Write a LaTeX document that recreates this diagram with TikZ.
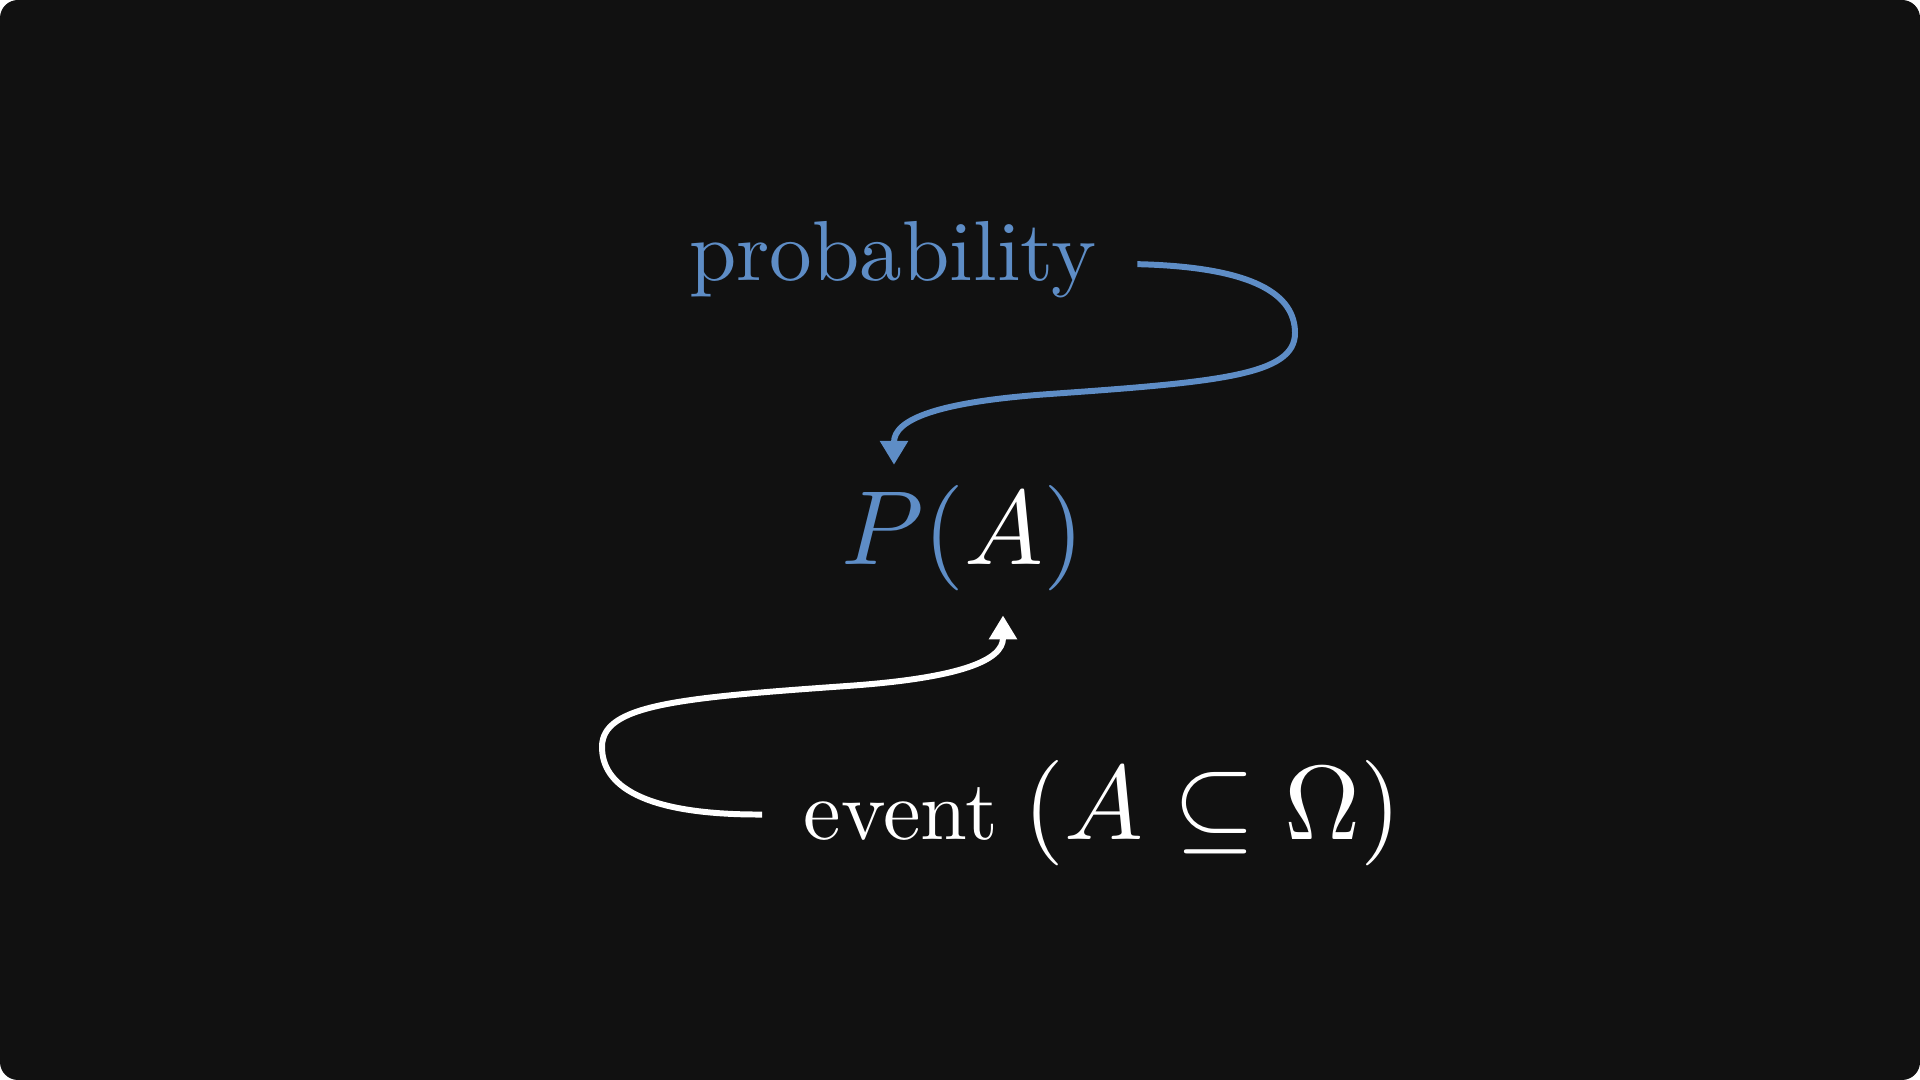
\documentclass[tikz,border=0pt]{standalone}
\usepackage{xcolor}
\usepackage{tikz}
\usetikzlibrary{arrows.meta, positioning}
\definecolor{probblue}{RGB}{94,141,198}
\definecolor{slatebg}{RGB}{17,17,17}

\begin{document}
\begin{tikzpicture}[
    word/.style={inner sep=0pt, scale=2.4},
    formula/.style={inner sep=0pt, scale=3},
    pointer/.style={line width=1.7pt, -{Triangle[length=2.4mm, width=2.7mm]}}
]
    % Slide background
    \useasboundingbox (0,0) rectangle (19.2,10.8);
    \fill[white] (0,0) rectangle (19.2,10.8);
    \fill[slatebg, rounded corners=1.8mm] (0,0) rectangle (19.2,10.8);

    % Notation and its parts
    \node[formula, anchor=base, text=probblue] (pa) at (9.63,5.15) {$P(\textcolor{white}{A})$};
    \node[word, scale=1.01, anchor=base west, text=probblue] (prob) at (6.875,7.99) {probability};
    \node[word, anchor=base west, text=white] (event) at (8.02,2.40) {event};
    \node[formula, text=white, right=2.2mm of event.base east, anchor=base west] (eventset) {$(A \subseteq \Omega)$};

    % Pointers
    \draw[pointer, probblue] ([xshift=3.9mm, yshift=-0.4mm]prob.east) .. controls (12.55,8.13) and (12.95,7.85) .. (12.95,7.47)
        .. controls (12.95,7.05) and (12.2,6.98) .. (10.5,6.86)
        .. controls (9.35,6.78) and (8.94,6.6) .. ([xshift=-6.9mm, yshift=1.9mm]pa.north);
    \draw[pointer, white] ([xshift=-4mm]event.west) .. controls (6.42,2.65) and (6.02,2.95) .. (6.02,3.33)
        .. controls (6.02,3.75) and (6.77,3.82) .. (8.47,3.94)
        .. controls (9.62,4.02) and (10.03,4.2) .. ([xshift=4.0mm, yshift=-2.2mm]pa.south);
\end{tikzpicture}
\end{document}
